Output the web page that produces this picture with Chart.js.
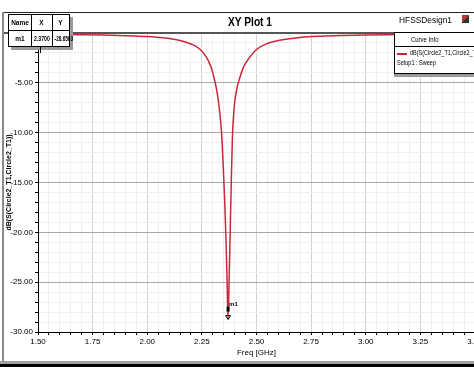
<!DOCTYPE html>
<html><head><meta charset="utf-8">
<script src="https://cdn.jsdelivr.net/npm/chart.js@4.4.0/dist/chart.umd.min.js"></script>
<style>
html,body{margin:0;padding:0;background:#fff;overflow:hidden;width:474px;height:367px;position:relative;}
#wrap{position:absolute;left:0;top:0;width:520px;height:367px;}
canvas{display:block;}
.ov{position:absolute;font-family:"Liberation Sans Narrow","Arial Narrow","Liberation Sans",sans-serif;color:#000;white-space:nowrap;z-index:5;}
.sq{display:inline-block;transform-origin:left center;}
.cell{position:absolute;text-align:center;font-size:6.5px;line-height:15px;font-weight:bold;}
</style></head><body>
<div style="position:absolute;left:3px;top:12px;width:471px;height:1px;background:#222"></div>
<div style="position:absolute;left:2px;top:12px;width:2px;height:349px;background:#8a8a8a"></div>
<div style="position:absolute;left:4px;top:32px;width:470px;height:2px;background:#555;z-index:3"></div>
<div style="position:absolute;left:0;top:361px;width:474px;height:3px;background:#a0a0a0"></div>
<div style="position:absolute;left:0;top:364px;width:474px;height:3px;background:#000"></div>
<div id="wrap"><canvas id="c" width="520" height="367"></canvas></div>

<div class="ov" style="left:250px;top:15px;font-size:12px;font-weight:bold;transform:translateX(-50%) scaleX(0.85);">XY Plot 1</div>
<div class="ov" style="left:399px;top:14px;font-size:9.5px;"><span class="sq" style="transform:scaleX(0.88)">HFSSDesign1</span></div>
<div style="position:absolute;left:462px;top:15px;width:7px;height:8px;background:linear-gradient(135deg,#c03030 50%,#333 50%);z-index:5"></div>

<!-- marker table -->
<div class="ov" style="left:8px;top:14px;width:60px;height:31px;border:1px solid #000;background:#fff;box-shadow:3px 3px 0 #9a9a9a;">
  <div style="position:absolute;left:0;top:15px;width:60px;height:1px;background:#000"></div>
  <div style="position:absolute;left:22px;top:0;width:1px;height:31px;background:#000"></div>
  <div style="position:absolute;left:43px;top:0;width:1px;height:31px;background:#000"></div>
  <div class="cell" style="left:0;top:0;width:22px;">Name</div>
  <div class="cell" style="left:22px;top:0;width:21px;">X</div>
  <div class="cell" style="left:43px;top:0;width:17px;">Y</div>
  <div class="cell" style="left:0;top:16px;width:22px;">m1</div>
  <div class="cell" style="left:22px;top:16px;width:21px;"><span class="sq" style="transform:scaleX(0.8);transform-origin:center">2.3700</span></div>
  <div class="cell" style="left:42px;top:16px;width:19px;"><span class="sq" style="transform:scaleX(0.72);transform-origin:center">-28.6563</span></div>
</div>
<div style="position:absolute;left:40px;top:46px;width:1px;height:7px;background:#000;z-index:5"></div>

<!-- legend box -->
<div class="ov" style="left:394px;top:32px;width:90px;height:40px;border:1px solid #000;background:#fff;box-shadow:0 3px 0 #9a9a9a;">
  <div style="position:absolute;left:16px;top:3px;font-size:7px;"><span class="sq" style="transform:scaleX(0.85)">Curve Info</span></div>
  <div style="position:absolute;left:0;top:13px;width:90px;height:1px;background:#000"></div>
  <div style="position:absolute;left:2px;top:20px;width:10px;height:1.5px;background:#c8283c"></div>
  <div style="position:absolute;left:15px;top:16px;font-size:6.5px;"><span class="sq" style="transform:scaleX(0.85)">dB(S(Circle2_T1,Circle2_T1))</span></div>
  <div style="position:absolute;left:2px;top:26px;font-size:6.5px;"><span class="sq" style="transform:scaleX(0.85)">Setup1 : Sweep</span></div>
</div>

<script>
const freqGHz = [1.50,1.60,1.70,1.80,1.90,2.00,2.05,2.10,2.15,2.20,2.24,2.27,2.29,2.30,2.31,2.32,2.33,2.34,2.35,2.355,2.36,2.365,2.37,2.375,2.38,2.385,2.39,2.395,2.40,2.41,2.42,2.44,2.46,2.50,2.55,2.60,2.70,2.80,2.90,3.00,3.10,3.20,3.30,3.40,3.50];
const s11dB   = [-0.12,-0.14,-0.17,-0.21,-0.27,-0.36,-0.44,-0.55,-0.75,-1.10,-1.60,-2.40,-3.30,-4.00,-4.90,-6.00,-7.60,-10.0,-14.5,-17.2,-20.5,-24.5,-28.66,-24.5,-19.5,-14.5,-10.3,-8.3,-7.0,-5.6,-4.75,-3.45,-2.7,-1.65,-1.05,-0.75,-0.45,-0.32,-0.25,-0.20,-0.17,-0.15,-0.13,-0.12,-0.11];
const xMajorTicks = [1.50,1.75,2.00,2.25,2.50,2.75,3.00,3.25,3.50];
const yMajorTicks = [0,-5,-10,-15,-20,-25,-30];
const markerName = 'm1';
const markerX = [2.37];
const markerY = [-28.6563];

const isMajorX = v => xMajorTicks.some(t => Math.abs(t - v) < 1e-6);
const isMajorY = v => yMajorTicks.some(t => Math.abs(t - v) < 1e-6);
const FONT = '"Liberation Sans Narrow","Arial Narrow","Liberation Sans",sans-serif';

const markerPlugin = {
  id: 'marker',
  afterDatasetsDraw(chart) {
    const {ctx, scales:{x, y}} = chart;
    const px = x.getPixelForValue(markerX[0]);
    const py = y.getPixelForValue(markerY[0]);
    ctx.save();
    ctx.strokeStyle = '#000';
    ctx.lineWidth = 1;
    ctx.beginPath();
    ctx.moveTo(px - 2.5, py - 3);
    ctx.lineTo(px + 2.5, py - 3);
    ctx.lineTo(px, py + 1);
    ctx.closePath();
    ctx.stroke();
    ctx.fillStyle = '#000';
    ctx.fillRect(px - 1.5, py - 12, 3, 5);
    ctx.font = 'bold 6px ' + FONT;
    ctx.textBaseline = 'middle';
    ctx.fillText(markerName, px + 1, py - 14);
    ctx.restore();
  }
};

new Chart(document.getElementById('c'), {
  type: 'scatter',
  data: {
    datasets: [{
      data: freqGHz.map((f, i) => ({x: f, y: s11dB[i]})),
      showLine: true,
      borderColor: '#c8283c',
      borderWidth: 1.5,
      pointRadius: 0,
      cubicInterpolationMode: 'monotone',
      fill: false
    }]
  },
  options: {
    responsive: false,
    animation: false,
    events: [],
    layout: {padding: {left: 4, top: 33, right: 45, bottom: 0}},
    plugins: {legend: {display: false}, tooltip: {enabled: false}, title: {display: false}},
    scales: {
      x: {
        type: 'linear', min: 1.5, max: 3.5,
        afterFit: s => { s.height = 35; },
        ticks: {
          stepSize: 0.05, autoSkip: false, maxRotation: 0, padding: 2,
          color: '#000', font: {family: FONT, size: 8},
          callback: v => isMajorX(v) ? v.toFixed(2) : ''
        },
        grid: {
          color: c => (c.tick && isMajorX(c.tick.value)) ? '#d4d4d4' : '#f1f1f1',
          tickColor: '#000', tickLength: 3, lineWidth: 1
        },
        border: {color: '#000', width: 1},
        title: {display: true, text: 'Freq [GHz]', color: '#000', font: {family: FONT, size: 8}, padding: {top: 0, bottom: 9}}
      },
      y: {
        type: 'linear', min: -30, max: 0,
        afterFit: s => { s.width = 34; },
        ticks: {
          stepSize: 1, autoSkip: false, padding: 2,
          color: '#000', font: {family: FONT, size: 8},
          callback: v => isMajorY(v) ? v.toFixed(2) : ''
        },
        grid: {
          color: c => (c.tick && isMajorY(c.tick.value)) ? '#a9a9a9' : '#efefef',
          tickColor: '#000', tickLength: 3, lineWidth: 1
        },
        border: {color: '#000', width: 1},
        title: {display: true, text: 'dB(S(Circle2_T1,Circle2_T1))', color: '#000', font: {family: FONT, size: 7, weight: 'bold'}, padding: {top: 1, bottom: 0}}
      }
    }
  },
  plugins: [markerPlugin]
});
</script>
</body></html>
